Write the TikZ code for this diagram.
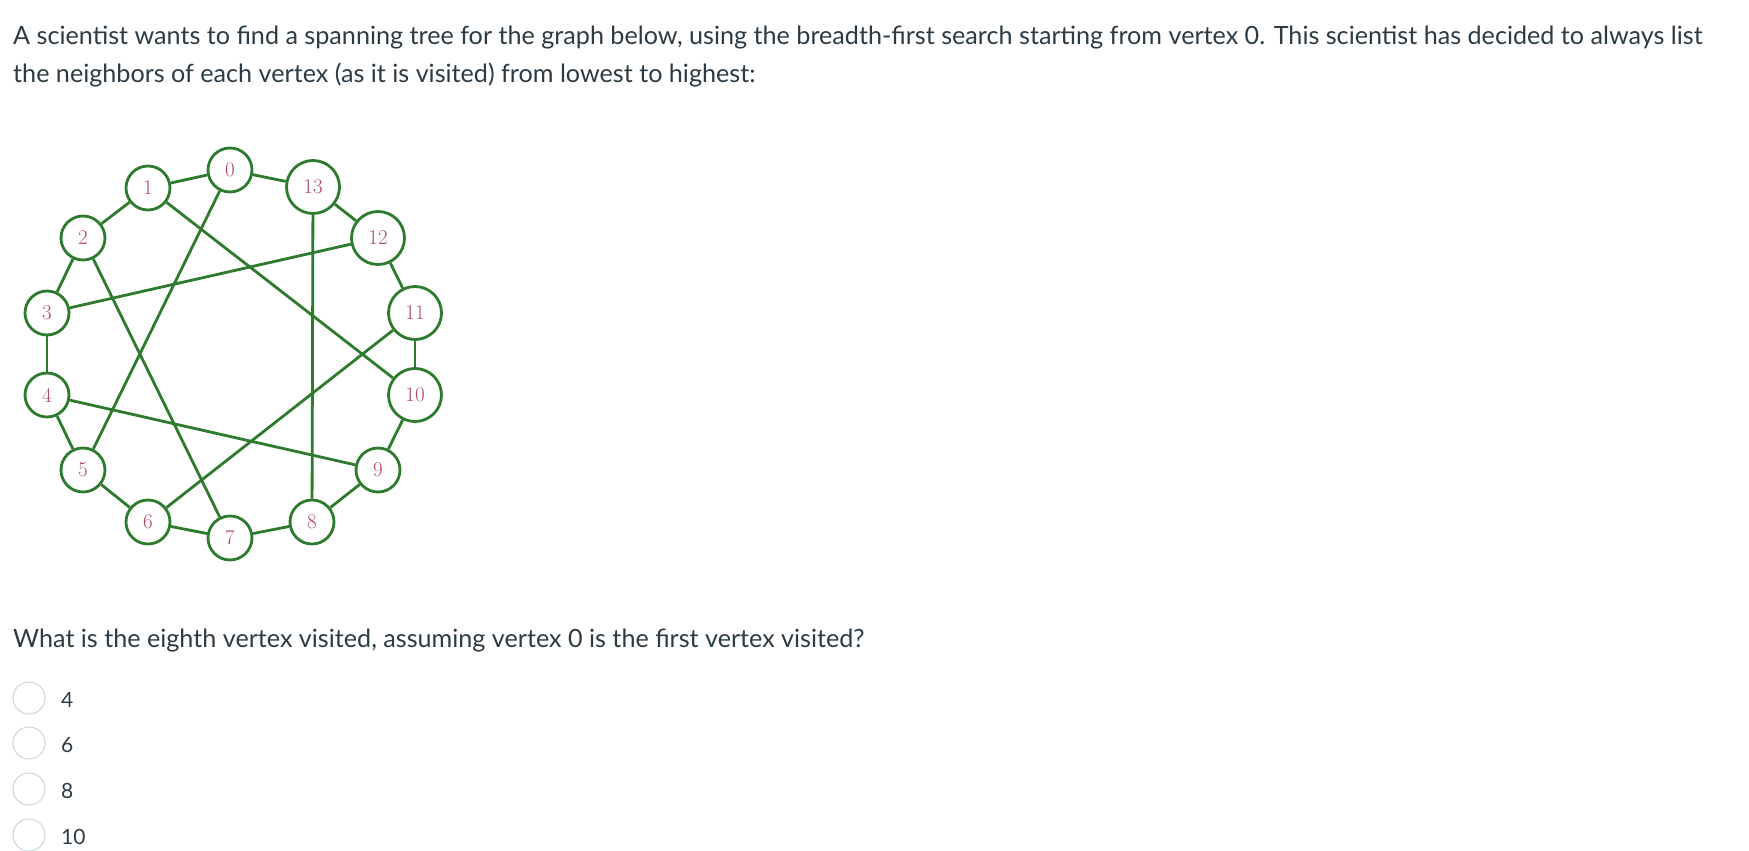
\documentclass[tikz,border=0pt]{standalone}
\usepackage{fontspec}
\setmainfont{Lato}
\newfontfamily\lmfont{Latin Modern Roman}
\definecolor{txt}{HTML}{2D3B45}
\definecolor{gr}{HTML}{2E7A2E}
\definecolor{lbl}{HTML}{B04A6C}
\definecolor{radio}{HTML}{C7D6DB}
\begin{document}
\begin{tikzpicture}[x=1bp,y=-1bp,
  vtx/.style={circle,draw=gr,line width=2.8bp,fill=white,minimum size=44bp,inner sep=0pt,
    text=lbl,font=\lmfont\fontsize{21bp}{21bp}\selectfont},
  vtxb/.style={vtx,minimum size=53bp},
  edge/.style={draw=gr,line width=2.8bp},
  para/.style={anchor=base west,inner sep=0pt,text=txt,font=\fontsize{25.15bp}{30bp}\selectfont},
  opt/.style={anchor=base west,inner sep=0pt,text=txt,font=\fontsize{21bp}{24bp}\selectfont},
  rad/.style={circle,draw=radio,line width=1bp,minimum size=32bp,inner sep=0pt}]
\useasboundingbox (0,0) rectangle (1749,851);
\node[para] (l1) at (13,44) {A scientist wants to find a spanning tree for the graph below, using the breadth-first search starting from vertex 0. This scientist has decided to always list};
\node[para] (l2) at (13,82) {the neighbors of each vertex (as it is visited) from lowest to highest:};
\node[para] (q) at (13,647) {What is the eighth vertex visited, assuming vertex 0 is the first vertex visited?};
% vertices
\node[vtx] (v0) at (230,170) {0};
\node[vtx] (v1) at (148,188) {1};
\node[vtx] (v2) at (83,238) {2};
\node[vtx] (v3) at (47,313) {3};
\node[vtx] (v4) at (47,395) {4};
\node[vtx] (v5) at (83,470) {5};
\node[vtx] (v6) at (148,522) {6};
\node[vtx] (v7) at (230,538) {7};
\node[vtx] (v8) at (312,522) {8};
\node[vtx] (v9) at (378,470) {9};
\node[vtxb] (v10) at (415,395) {10};
\node[vtxb] (v11) at (415,313) {11};
\node[vtxb] (v12) at (378,238) {12};
\node[vtxb] (v13) at (313,187) {13};
\foreach \a/\b in {0/1,1/2,2/3,3/4,4/5,5/6,6/7,7/8,8/9,9/10,10/11,11/12,12/13,13/0,0/5,1/10,2/7,3/12,4/9,6/11,8/13}
  \draw[edge] (v\a) -- (v\b);
% options
\node[rad] (r1) at (29,698) {};
\node[rad] (r2) at (29,743) {};
\node[rad] (r3) at (29,789) {};
\node[rad] (r4) at (29,835) {};
\node[opt] (o1) at (61,707) {4};
\node[opt] (o2) at (61,752) {6};
\node[opt] (o3) at (61,798) {8};
\node[opt] (o4) at (61,844) {10};
\end{tikzpicture}
\end{document}
